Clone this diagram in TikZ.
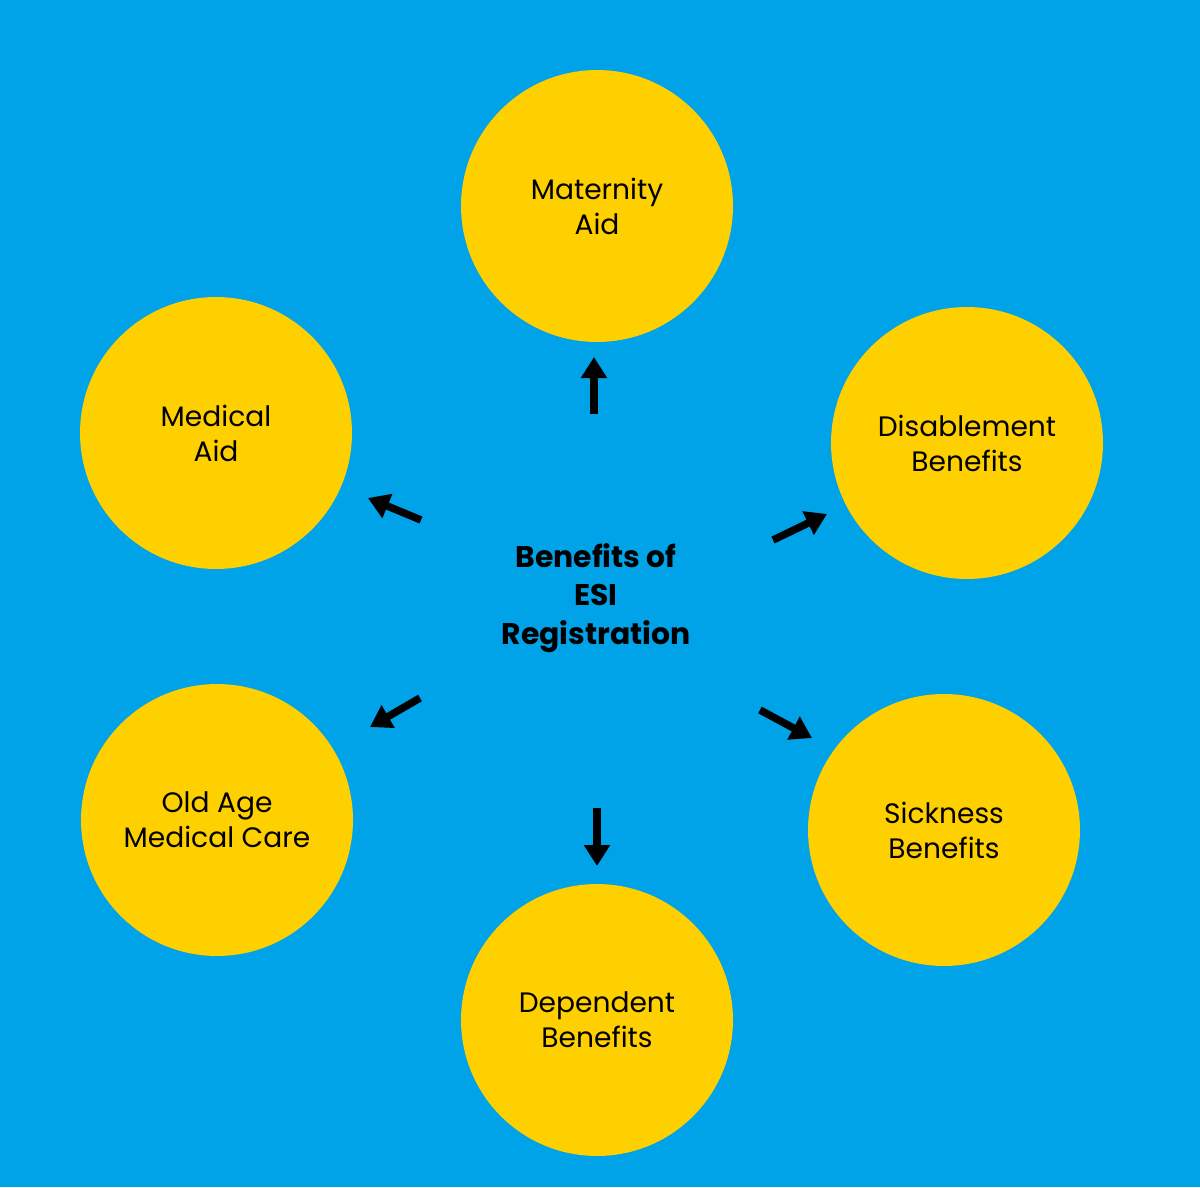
\documentclass[tikz,border=0pt]{standalone}
\usepackage{fontspec}
\setmainfont{Poppins}
\usetikzlibrary{arrows.meta}
\definecolor{bg}{RGB}{0,162,232}
\definecolor{yel}{RGB}{255,208,0}
\begin{document}
\begin{tikzpicture}[x=0.02cm,y=-0.02cm,
  ben/.style={circle,fill=yel,minimum size=5.44cm,inner sep=0pt,align=center,font=\fontsize{16}{20}\selectfont},
  arr/.style={line width=0.15cm,-{Triangle[length=0.42cm,width=0.5cm]}}]
\fill[bg] (0,0) rectangle (1200,1187);
\useasboundingbox (0,0) rectangle (1200,1187);
\node[ben] (mat) at (597,206) {Maternity\\Aid};
\node[ben] (med) at (216,433) {Medical\\Aid};
\node[ben] (dis) at (967,443) {Disablement\\Benefits};
\node[ben] (old) at (217,820) {Old Age\\Medical Care};
\node[ben] (sic) at (944,830) {Sickness\\Benefits};
\node[ben] (dep) at (597,1020) {Dependent\\Benefits};
\node[align=center,font=\bfseries\fontsize{17}{22}\selectfont] (c) at (596,598) {Benefits of\\ESI\\Registration};
\coordinate (a1) at (594,414); \coordinate (b1) at (594,357);
\coordinate (a2) at (421,520); \coordinate (b2) at (368,498);
\coordinate (a3) at (773,540); \coordinate (b3) at (827,514);
\coordinate (a4) at (420,698); \coordinate (b4) at (370,727);
\coordinate (a5) at (760,710); \coordinate (b5) at (812,738);
\coordinate (a6) at (597,808); \coordinate (b6) at (597,866);
\foreach \i in {1,...,6}{\draw[arr] (a\i) -- (b\i);}
\end{tikzpicture}
\end{document}
